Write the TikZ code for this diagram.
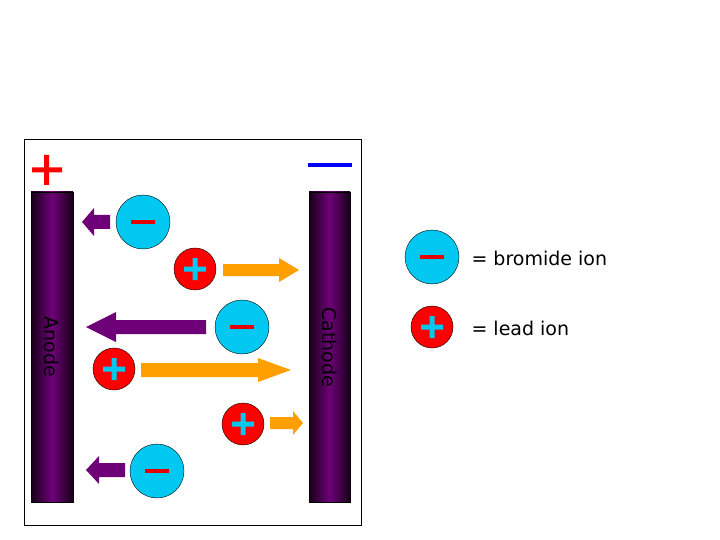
\documentclass[tikz,border=0pt]{standalone}
\usepackage{fontspec}
\setmainfont{DejaVu Sans}
\usetikzlibrary{calc}
\newcommand\fatarr[7]{% x tail, x tip, y, shaft half, head half, head length, color
  \pgfmathsetmacro\hb{#2-(#1<#2?1:-1)*#6}
  \fill[#7] (#1,#3-#4) -- (\hb,#3-#4) -- (\hb,#3-#5) -- (#2,#3) -- (\hb,#3+#5) -- (\hb,#3+#4) -- (#1,#3+#4) -- cycle;}
\begin{document}
\begin{tikzpicture}[x=1pt,y=-1pt,
  lbl/.style={font=\fontsize{19}{19}\selectfont}]
\useasboundingbox (0,0) rectangle (720,540);
\draw[line width=0.8pt] (24,139) rectangle (361,525);
\definecolor{pur}{RGB}{110,0,120}
\definecolor{orng}{RGB}{255,160,0}
\definecolor{cy}{RGB}{0,200,240}
\shade[left color=black!80!pur, right color=black!80!pur, middle color=pur] (31,192) rectangle (73,502);
\shade[left color=black!80!pur, right color=black!80!pur, middle color=pur] (309,192) rectangle (350,502);
\draw (31,192) rectangle (73,502) (309,192) rectangle (350,502);
\node[lbl,rotate=-90] (an) at (52,347) {Anode};
\node[lbl,rotate=-90] (ca) at (330,347) {Cathode};
\fill[red] (44,155) rectangle (49,185) (32,167.5) rectangle (62,172.5);
\fill[blue] (308,163) rectangle (352,167);
% ions
\newcommand\negion[2]{\node[circle,draw=black,fill=cy,minimum size=54pt,inner sep=0pt] (#1) at (#2) {};
  \fill[red!90!black] ($(#1)+(-12,-2)$) rectangle ($(#1)+(12,2)$);}
\newcommand\posion[2]{\node[circle,draw=black,fill=red,minimum size=42pt,inner sep=0pt] (#1) at (#2) {};
  \fill[cy] ($(#1)+(-11,-2.5)$) rectangle ($(#1)+(11,2.5)$) ($(#1)+(-2.5,-11)$) rectangle ($(#1)+(2.5,11)$);}
\negion{n1}{143,222}
\negion{n2}{242,327}
\negion{n3}{157,471}
\negion{n4}{432,257}
\posion{p1}{195,269}
\posion{p2}{114,369}
\posion{p3}{243,424}
\posion{p4}{432,327}
% arrows
\fatarr{110}{82}{222}{7}{14}{12}{pur}
\fatarr{223}{299}{270}{6}{12}{20}{orng}
\fatarr{206}{86}{327}{7}{15}{30}{pur}
\fatarr{141}{291}{370}{7}{12}{33}{orng}
\fatarr{270}{303}{423}{6}{12}{10}{orng}
\fatarr{125}{86}{470}{7}{14}{13}{pur}
\node[lbl,anchor=west] (t1) at (468,258) {= bromide ion};
\node[lbl,anchor=west] (t2) at (468,328) {= lead ion};
\end{tikzpicture}
\end{document}
